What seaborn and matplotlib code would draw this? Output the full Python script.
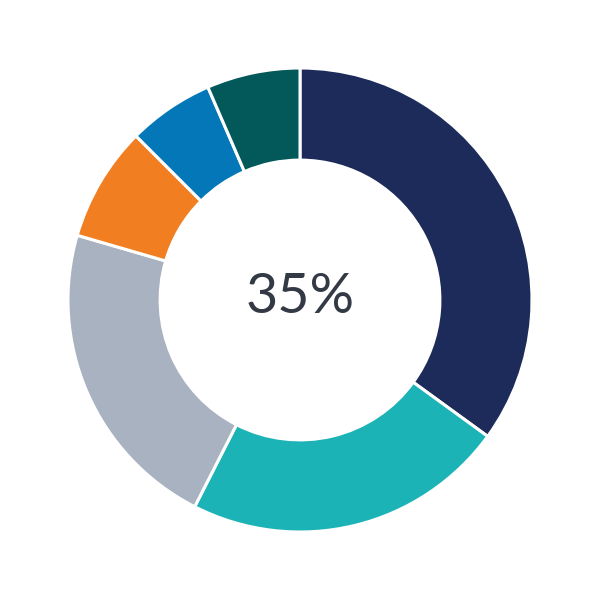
import numpy as np
import seaborn as sns
import pandas as pd
import matplotlib.pyplot as plt

# slice shares (percent), clockwise from 12 o'clock
segments = ["A", "B", "C", "D", "E", "F"]
shares = [35, 22.5, 22, 8, 6, 6.5]
colors = ["#1c2b5a", "#1bb3b6", "#a8b2c0", "#f17e20", "#0377b8", "#03585a"]
center_label = "35%"

sns.set_theme(style="white")

df = pd.DataFrame({"segment": segments, "share": shares, "color": colors})

fig = plt.figure(figsize=(6, 6), dpi=100)
ax = fig.add_axes([0, 0, 1, 1])
ax.pie(df["share"], colors=df["color"], startangle=90, counterclock=False,
       radius=1.0,
       wedgeprops=dict(width=0.397, edgecolor="white", linewidth=2.2))
lim = 300 / 232
ax.set_xlim(-lim, lim)
ax.set_ylim(-lim, lim)
ax.set_aspect("equal")
ax.axis("off")

ax.text(0, 0.01, center_label, ha="center", va="center", fontsize=40,
        color="#333a45", family=["Lato", "DejaVu Sans"], fontweight="normal")

fig.savefig("out.png", dpi=100, facecolor="white")
